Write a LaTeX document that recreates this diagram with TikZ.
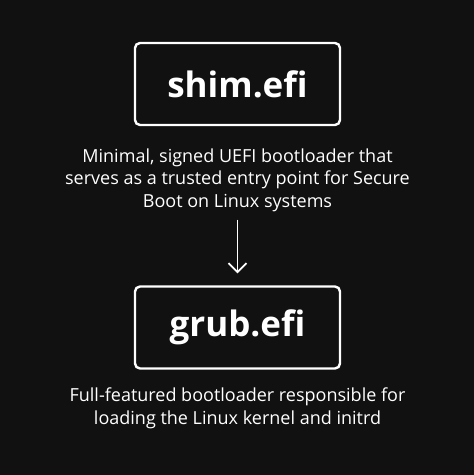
\documentclass[tikz,border=0pt]{standalone}
\usepackage{fontspec}
\setmainfont{Open Sans}
\usepackage{xcolor}
\usetikzlibrary{positioning,arrows.meta}
\definecolor{bgdark}{HTML}{111111}
\tikzset{
  efibox/.style={draw=white, line width=2.4pt, rounded corners=5pt, minimum width=205pt, minimum height=82pt, text=white, font=\fontsize{35}{42}\selectfont\bfseries, inner sep=0pt},
  desc/.style={text=white, align=center, font=\fontsize{18}{22.5}\selectfont, inner sep=0pt},
  flow/.style={draw=white, line width=1.8pt, -{Straight Barb[length=9pt,width=18pt]}}
}
\begin{document}
\begin{tikzpicture}[x=1pt,y=1pt]
  \fill[bgdark] (0,0) rectangle (474,475);
  \useasboundingbox (0,0) rectangle (474,475);
  \node[efibox] (shim) at (237.5,391) {shim.efi};
  \node[desc] (shimtxt) at (237.5,295) {Minimal, signed UEFI bootloader that\\serves as a trusted entry point for Secure\\Boot on Linux systems};
  \node[efibox] (grub) at (237.5,147.5) {grub.efi};
  \node[desc, below=18pt of grub] (grubtxt) {Full-featured bootloader responsible for\\loading the Linux kernel and initrd};
  \draw[flow] ([yshift=-8pt]shimtxt.south) -- ([yshift=12pt]grub.north);
\end{tikzpicture}
\end{document}
